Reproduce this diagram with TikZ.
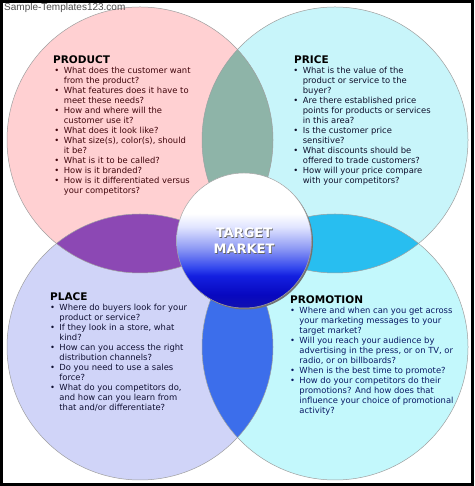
\documentclass[tikz,border=0pt]{standalone}
\usepackage{fontspec}
\setmainfont{DejaVu Sans}
\newfontfamily\markfont{Liberation Sans}
\definecolor{prodpink}{RGB}{255,208,210}
\definecolor{pricecyan}{RGB}{200,245,250}
\definecolor{placelav}{RGB}{208,212,248}
\definecolor{promocyan}{RGB}{195,248,252}
\definecolor{lensgreen}{RGB}{142,180,168}
\definecolor{lenspurple}{RGB}{140,72,180}
\definecolor{lensblue}{RGB}{60,110,235}
\definecolor{lenscyan}{RGB}{40,190,240}
\definecolor{prodtext}{RGB}{64,6,12}
\definecolor{pricetext}{RGB}{16,16,44}
\definecolor{placetext}{RGB}{16,16,50}
\definecolor{promotext}{RGB}{10,24,100}
\definecolor{tmA}{RGB}{16,16,176}
\definecolor{tmB}{RGB}{8,8,192}
\definecolor{tmC}{RGB}{20,32,224}
\definecolor{tmD}{RGB}{52,72,238}
\definecolor{tmE}{RGB}{140,152,244}
\definecolor{tmF}{RGB}{224,228,255}
\pgfdeclareverticalshading{targetball}{100bp}{color(0bp)=(tmA); color(25bp)=(tmA);
  color(30bp)=(tmB); color(37bp)=(tmC); color(40bp)=(tmD); color(47bp)=(tmE);
  color(55bp)=(tmF); color(60bp)=(white); color(100bp)=(white)}
\newcommand{\bl}{\textbullet}

\begin{document}
\begin{tikzpicture}[x=1pt,y=1pt,
  area/.style={draw=gray!75,line width=0.5pt},
  head/.style={anchor=west,inner sep=0pt,font=\fontsize{10.5}{12}\selectfont\bfseries},
  qlist/.style={anchor=north west,inner sep=0pt,font=\fontsize{8.4}{10}\selectfont}]
\useasboundingbox (0,0) rectangle (474,486);
\fill[white] (0,0) rectangle (474,486);
\coordinate (cprod) at (140,346);
\coordinate (cprice) at (335,346);
\coordinate (cplace) at (140,139);
\coordinate (cpromo) at (335,139);
\coordinate (ctarget) at (244,245.5);
\fill[prodpink] (cprod) circle (133);
\fill[pricecyan] (cprice) circle (133);
\fill[placelav] (cplace) circle (133);
\fill[promocyan] (cpromo) circle (133);
% overlaps
\begin{scope}
\clip (cprod) circle (133);
\fill[lensgreen] (cprice) circle (133);
\fill[lenspurple] (cplace) circle (133);
\end{scope}
\begin{scope}
\clip (cpromo) circle (133);
\fill[lensblue] (cplace) circle (133);
\fill[lenscyan] (cprice) circle (133);
\end{scope}
\draw[area] (cprod) circle (133);
\draw[area] (cprice) circle (133);
\draw[area] (cplace) circle (133);
\draw[area] (cpromo) circle (133);

\node[head] (prodhead) at (53,426) {PRODUCT};
\node[qlist,text=prodtext] (prodlist) at (54.2,420) {\begin{tabular}{@{}c@{\hspace{4.5pt}}l@{}}
\bl & What does the customer want\\ & from the product?\\
\bl & What features does it have to\\ & meet these needs?\\
\bl & How and where will the\\ & customer use it?\\
\bl & What does it look like?\\
\bl & What size(s), color(s), should\\ & it be?\\
\bl & What is it to be called?\\
\bl & How is it branded?\\
\bl & How is it differentiated versus\\ & your competitors?
\end{tabular}};

\node[head] (pricehead) at (294,426) {PRICE};
\node[qlist,text=pricetext] (pricelist) at (293.2,420) {\begin{tabular}{@{}c@{\hspace{4.5pt}}l@{}}
\bl & What is the value of the\\ & product or service to the\\ & buyer?\\
\bl & Are there established price\\ & points for products or services\\ & in this area?\\
\bl & Is the customer price\\ & sensitive?\\
\bl & What discounts should be\\ & offered to trade customers?\\
\bl & How will your price compare\\ & with your competitors?
\end{tabular}};

\node[head] (placehead) at (50,189) {PLACE};
\node[qlist,text=placetext] (placelist) at (49.8,182.3) {\begin{tabular}{@{}c@{\hspace{4.5pt}}l@{}}
\bl & Where do buyers look for your\\ & product or service?\\
\bl & If they look in a store, what\\ & kind?\\
\bl & How can you access the right\\ & distribution channels?\\
\bl & Do you need to use a sales\\ & force?\\
\bl & What do you competitors do,\\ & and how can you learn from\\ & that and/or differentiate?
\end{tabular}};

\node[head] (promohead) at (290,186) {PROMOTION};
\node[qlist,text=promotext] (promolist) at (289.8,180) {\begin{tabular}{@{}c@{\hspace{4.5pt}}l@{}}
\bl & Where and when can you get across\\ & your marketing messages to your\\ & target market?\\
\bl & Will you reach your audience by\\ & advertising in the press, or on TV, or\\ & radio, or on billboards?\\
\bl & When is the best time to promote?\\
\bl & How do your competitors do their\\ & promotions? And how does that\\ & influence your choice of promotional\\ & activity?
\end{tabular}};

% target market ball
\fill[black!55] ([shift={(1.5,-1.5)}]ctarget) circle (67.5);
\shade[shading=targetball,draw=gray!70,line width=0.5pt] (ctarget) circle (67.5);
\node[text=gray!80!black,align=center,font=\fontsize{13}{16}\selectfont\bfseries] (targetshadow) at ([shift={(0.8,-0.8)}]ctarget) {TARGET\\MARKET};
\node[text=white,align=center,font=\fontsize{13}{16}\selectfont\bfseries] (target) at (ctarget) {TARGET\\MARKET};

\node[anchor=west,inner sep=0pt,text=black!70,font=\markfont\fontsize{10}{12}\selectfont] (mark) at (4,478) {Sample-Templates123.com};
\draw[black,line width=3pt] (1.5,1.5) rectangle (472.5,484.5);
\end{tikzpicture}
\end{document}
